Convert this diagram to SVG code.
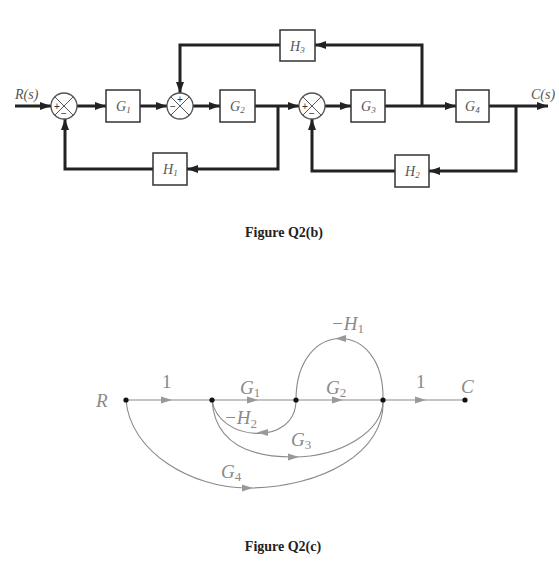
<svg xmlns="http://www.w3.org/2000/svg" width="559" height="567" viewBox="0 0 559 567">
<style>
.blk{fill:#fff;stroke:#333;stroke-width:1.5}
.sum{fill:#fff;stroke:#555;stroke-width:1.3}
.x{stroke:#555;stroke-width:1}
.wire{fill:none;stroke:#222;stroke-width:3}
.lbl{font-family:"Liberation Serif",serif;font-style:italic;font-size:14px;fill:#555}
.sg{font-family:"Liberation Sans",sans-serif;font-size:10px;fill:#333;text-anchor:middle}
.cap{font-family:"Liberation Serif",serif;font-weight:bold;font-size:14px;fill:#222;text-anchor:middle}
.sfg{fill:none;stroke:#8a8a8a;stroke-width:1.1}
.sl{font-family:"Liberation Serif",serif;font-style:italic;font-size:19px;fill:#8a8a8a}
.up{font-style:normal}
.node{fill:#111}
.ah{fill:#999}
</style>
<defs>
<marker id="arr" markerUnits="userSpaceOnUse" markerWidth="12" markerHeight="10" refX="11" refY="5" orient="auto">
<path d="M0,1 L11,5 L0,9 Z" fill="#222"/>
</marker>
<polygon id="tri" points="-5,-3.5 6,0 -5,3.5" class="ah"/>
</defs>

<!-- Figure Q2(b) -->
<g id="connectors">
<path class="wire" d="M15,106 H51" marker-end="url(#arr)"/>
<path class="wire" d="M77,106 H106" marker-end="url(#arr)"/>
<path class="wire" d="M140,106 H167" marker-end="url(#arr)"/>
<path class="wire" d="M193,106 H220" marker-end="url(#arr)"/>
<path class="wire" d="M255,106 H299" marker-end="url(#arr)"/>
<path class="wire" d="M278,106 V169 H187" marker-end="url(#arr)"/>
<path class="wire" d="M153,169 H65 V119" marker-end="url(#arr)"/>
<path class="wire" d="M325,106 H351" marker-end="url(#arr)"/>
<path class="wire" d="M385,106 H456" marker-end="url(#arr)"/>
<path class="wire" d="M422,106 V45 H315" marker-end="url(#arr)"/>
<path class="wire" d="M280,45 H180 V93" marker-end="url(#arr)"/>
<path class="wire" d="M489,106 H548" marker-end="url(#arr)"/>
<path class="wire" d="M516,106 V171 H429" marker-end="url(#arr)"/>
<path class="wire" d="M395,171 H312 V119" marker-end="url(#arr)"/>
</g>
<text class="lbl" x="15" y="99" font-size="11">R(s)</text>
<text class="lbl" x="531" y="99" font-size="11">C(s)</text>

<g id="sum1">
<circle class="sum" cx="64" cy="106" r="13"/>
<path class="x" d="M54.8,96.8 L73.2,115.2 M73.2,96.8 L54.8,115.2"/>
<text class="sg" x="57" y="109.5">+</text>
<text class="sg" x="64" y="117">−</text>
</g>
<g id="sum2">
<circle class="sum" cx="180" cy="106" r="13"/>
<path class="x" d="M170.8,96.8 L189.2,115.2 M189.2,96.8 L170.8,115.2"/>
<text class="sg" x="180" y="102.5">+</text>
<text class="sg" x="173" y="109.5">−</text>
</g>
<g id="sum3">
<circle class="sum" cx="312" cy="106" r="13"/>
<path class="x" d="M302.8,96.8 L321.2,115.2 M321.2,96.8 L302.8,115.2"/>
<text class="sg" x="305" y="109.5">+</text>
<text class="sg" x="312" y="117">−</text>
</g>
<g id="G1"><rect class="blk" x="106" y="90" width="34" height="32"/><text class="lbl" x="116" y="111">G<tspan font-size="9" dy="2">1</tspan></text></g>
<g id="G2"><rect class="blk" x="220" y="90" width="35" height="32"/><text class="lbl" x="230" y="111">G<tspan font-size="9" dy="2">2</tspan></text></g>
<g id="G3"><rect class="blk" x="351" y="90" width="34" height="32"/><text class="lbl" x="361" y="111">G<tspan font-size="9" dy="2">3</tspan></text></g>
<g id="G4"><rect class="blk" x="456" y="90" width="33" height="32"/><text class="lbl" x="465" y="111">G<tspan font-size="9" dy="2">4</tspan></text></g>
<g id="H1"><rect class="blk" x="153" y="153" width="34" height="32"/><text class="lbl" x="163" y="174">H<tspan font-size="9" dy="2">1</tspan></text></g>
<g id="H2"><rect class="blk" x="395" y="155" width="34" height="32"/><text class="lbl" x="405" y="176">H<tspan font-size="9" dy="2">2</tspan></text></g>
<g id="H3"><rect class="blk" x="280" y="30" width="35" height="31"/><text class="lbl" x="290" y="51">H<tspan font-size="9" dy="2">3</tspan></text></g>

<text class="cap" x="284" y="237">Figure Q2(b)</text>

<!-- Figure Q2(c) -->
<g id="sfg-branches">
<path class="sfg" d="M126,400 H465"/>
<path class="sfg" d="M383,400 C385,318 296,318 296,400"/>
<path class="sfg" d="M296,400 C296,447 218,442 212,400"/>
<path class="sfg" d="M212,400 C215,448 258,457 293,457 C340,457 383,432 383,400"/>
<path class="sfg" d="M126,400 C130,452 192,488 247,488 C322,488 386,452 383,400"/>
<use href="#tri" x="166" y="400"/>
<use href="#tri" x="252" y="400"/>
<use href="#tri" x="337" y="400"/>
<use href="#tri" x="420" y="400"/>
<use href="#tri" transform="translate(341,338.5) rotate(180)"/>
<use href="#tri" transform="translate(263,432.5) rotate(180)"/>
<use href="#tri" transform="translate(293,457)"/>
<use href="#tri" transform="translate(247,488)"/>
</g>
<g id="nR"><circle class="node" cx="126" cy="400" r="2.6"/><text class="sl" x="96" y="407">R</text></g>
<g id="n2"><circle class="node" cx="212" cy="400" r="2.6"/></g>
<g id="n3"><circle class="node" cx="296" cy="400" r="2.6"/></g>
<g id="n4"><circle class="node" cx="383" cy="400" r="2.6"/></g>
<g id="nC"><circle class="node" cx="465" cy="400" r="2.6"/><text class="sl" x="461" y="393">C</text></g>
<text class="sl up" x="162" y="388">1</text>
<text class="sl" x="240" y="394">G<tspan class="up" font-size="13" dy="3">1</tspan></text>
<text class="sl" x="326" y="394">G<tspan class="up" font-size="13" dy="3">2</tspan></text>
<text class="sl up" x="416" y="388">1</text>
<text class="sl" x="331" y="330">−H<tspan class="up" font-size="13" dy="3">1</tspan></text>
<text class="sl" x="224" y="424">−H<tspan class="up" font-size="13" dy="4">2</tspan></text>
<text class="sl" x="291" y="446">G<tspan class="up" font-size="13" dy="3">3</tspan></text>
<text class="sl" x="221" y="478">G<tspan class="up" font-size="13" dy="3">4</tspan></text>

<text class="cap" x="283" y="551">Figure Q2(c)</text>
</svg>
